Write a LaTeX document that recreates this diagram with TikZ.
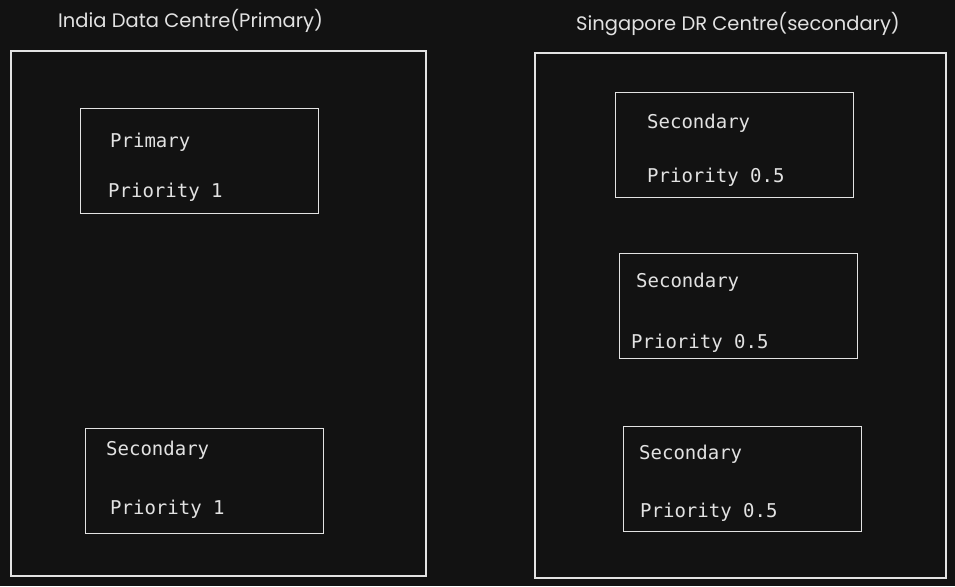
\documentclass[tikz,border=0pt]{standalone}
\usepackage{fontspec}
\setmonofont{DejaVu Sans Mono}
\setsansfont{Poppins}
\definecolor{bg}{HTML}{121212}
\definecolor{ink}{HTML}{E2E2E2}
\tikzset{
  site/.style={draw=ink,line width=1.8pt,inner sep=0pt,anchor=north west},
  server/.style={draw=ink,line width=1.2pt,inner sep=0pt,anchor=north west,
    minimum width=238pt,minimum height=105pt},
  lbl/.style={text=ink,font=\ttfamily\fontsize{19}{19}\selectfont,anchor=base west,inner sep=0pt},
  sitename/.style={text=ink,font=\sffamily\fontsize{19.5}{19.5}\selectfont,anchor=base west,inner sep=0pt}
}
\begin{document}
\begin{tikzpicture}[x=1pt,y=-1pt]
\fill[bg] (0,0) rectangle (955,586);
\useasboundingbox (0,0) rectangle (955,586);
% data centres
\node[sitename] (indianame) at (58,28) {India Data Centre(Primary)};
\node[site,minimum width=415pt,minimum height=525pt] (india) at (10,50) {};
\node[sitename] (sgname) at (576,31) {Singapore DR Centre(secondary)};
\node[site,minimum width=411pt,minimum height=525pt] (sg) at (534,52) {};
% india nodes
\node[server] (in1) at (80,108) {};
\node[lbl] (in1role) at (110,147) {Primary};
\node[lbl] (in1prio) at (108,197) {Priority 1};
\node[server] (in2) at (85,428) {};
\node[lbl] (in2role) at (106,455) {Secondary};
\node[lbl] (in2prio) at (110,514) {Priority 1};
% singapore nodes
\node[server] (sg1) at (615,92) {};
\node[lbl] (sg1role) at (647,128) {Secondary};
\node[lbl] (sg1prio) at (647,182) {Priority 0.5};
\node[server] (sg2) at (619,253) {};
\node[lbl] (sg2role) at (636,287) {Secondary};
\node[lbl] (sg2prio) at (631,348) {Priority 0.5};
\node[server] (sg3) at (623,426) {};
\node[lbl] (sg3role) at (639,459) {Secondary};
\node[lbl] (sg3prio) at (640,517) {Priority 0.5};
\end{tikzpicture}
\end{document}
